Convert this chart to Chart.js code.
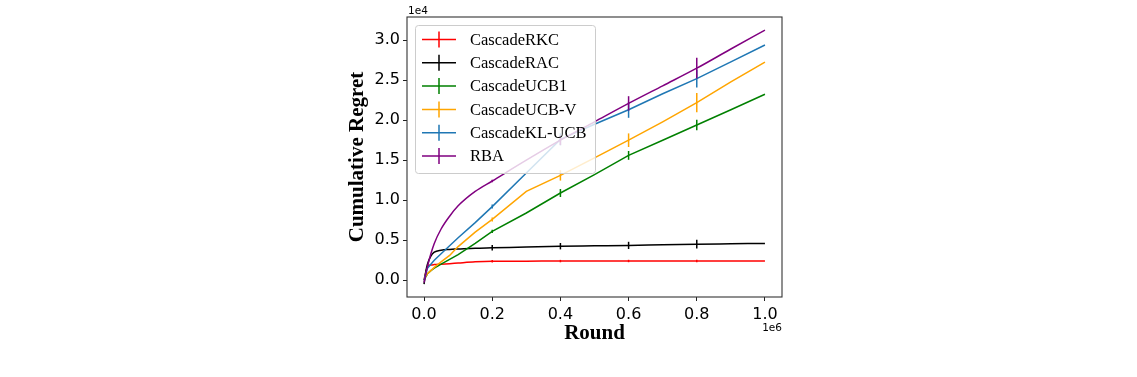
<!DOCTYPE html>
<html>
<head>
<meta charset="utf-8">
<script src="https://cdn.jsdelivr.net/npm/chart.js@4/dist/chart.umd.min.js"></script>
<style>
html, body { margin: 0; padding: 0; background: #fff; }
#wrap { width: 1137px; height: 377px; position: relative; }
</style>
</head>
<body>
<div id="wrap"><canvas id="regretChart"></canvas></div>
<script>
// rounds (x) and cumulative regret per algorithm (y)
const rounds = [0, 5000, 10000, 20000, 30000, 50000, 75000, 100000, 150000, 200000,
    300000, 400000, 500000, 600000, 700000, 800000, 900000, 1000000];

const rkc    = [0, 1000, 1700, 1900, 1950, 2000, 2070, 2150, 2300, 2370, 2380, 2390, 2390, 2400, 2400, 2400, 2400, 2400];
const rac    = [-500, 1000, 2000, 3000, 3500, 3750, 3850, 3900, 4000, 4050, 4150, 4250, 4300, 4350, 4430, 4500, 4550, 4600];
const ucb1   = [0, 400, 800, 1200, 1500, 2000, 2600, 3200, 4600, 6100, 8400, 10900, 13200, 15600, 17500, 19400, 21300, 23250];
const ucbV   = [200, 500, 800, 1200, 1600, 2300, 3100, 4200, 6000, 7600, 11100, 13100, 15300, 17500, 19800, 22200, 24800, 27250];
const klUcb  = [0, 800, 1500, 2000, 2500, 3300, 4300, 5300, 7200, 9200, 13400, 17600, 19500, 21300, 23300, 25200, 27300, 29400];
const rba    = [-300, 700, 1700, 3300, 4600, 6400, 8000, 9300, 11100, 12400, 15000, 17500, 19800, 22100, 24300, 26500, 28900, 31250];

// error bars (half height) at these rounds
const errRounds = [200000, 400000, 600000, 800000];
const rkcErr   = [150, 150, 150, 150];
const racErr   = [350, 400, 450, 550];
const ucb1Err  = [200, 500, 550, 650];
const ucbVErr  = [250, 650, 850, 1200];
const klUcbErr = [250, 750, 1000, 1100];
const rbaErr   = [150, 600, 900, 1300];

const seriesNames = ['CascadeRKC', 'CascadeRAC', 'CascadeUCB1', 'CascadeUCB-V', 'CascadeKL-UCB', 'RBA'];
const seriesColors = ['#ff0000', '#000000', '#008000', '#ffa500', '#1f77b4', '#800080'];
const smoothSeries = ['CascadeRKC', 'CascadeRAC', 'RBA'];

const xTicks = [0, 200000, 400000, 600000, 800000, 1000000];
const yTicks = [0, 5000, 10000, 15000, 20000, 25000, 30000];

const allSeries = [rkc, rac, ucb1, ucbV, klUcb, rba];
const allErrors = [rkcErr, racErr, ucb1Err, ucbVErr, klUcbErr, rbaErr];

const datasets = allSeries.map((vals, i) => ({
    label: seriesNames[i],
    data: vals.map((v, j) => ({ x: rounds[j], y: v })),
    errors: allErrors[i],
    borderColor: seriesColors[i],
    backgroundColor: seriesColors[i],
    borderWidth: 1.5,
    pointRadius: 0,
    tension: 0,
    cubicInterpolationMode: smoothSeries.includes(seriesNames[i]) ? 'monotone' : 'default',
    fill: false,
    order: allSeries.length - i
}));

// vertical error bars, drawn with their own series
const errorBars = {
    id: 'errorBars',
    afterDatasetDraw(chart, args) {
        const ds = chart.data.datasets[args.index];
        if (!ds.errors) return;
        const { ctx, chartArea, scales } = chart;
        ctx.save();
        ctx.beginPath();
        ctx.rect(chartArea.left, chartArea.top, chartArea.right - chartArea.left, chartArea.bottom - chartArea.top);
        ctx.clip();
        ctx.strokeStyle = ds.borderColor;
        ctx.lineWidth = 1.5;
        errRounds.forEach((r, k) => {
            const pt = ds.data.find(p => p.x === r);
            if (!pt) return;
            const px = scales.x.getPixelForValue(r);
            ctx.beginPath();
            ctx.moveTo(px, scales.y.getPixelForValue(pt.y - ds.errors[k]));
            ctx.lineTo(px, scales.y.getPixelForValue(pt.y + ds.errors[k]));
            ctx.stroke();
        });
        ctx.restore();
    }
};

// axes box, offset texts and the legend
const frameAndLegend = {
    id: 'frameAndLegend',
    afterDatasetsDraw(chart) {
        const { ctx, chartArea: a } = chart;
        ctx.save();
        ctx.strokeStyle = '#333';
        ctx.lineWidth = 1.1;
        ctx.strokeRect(a.left, a.top, a.right - a.left, a.bottom - a.top);
        ctx.fillStyle = '#000';
        ctx.font = '10.5px "DejaVu Sans"';
        ctx.textBaseline = 'alphabetic';
        ctx.textAlign = 'left';
        ctx.fillText('1e4', a.left + 1, a.top - 3);
        ctx.textAlign = 'right';
        ctx.fillText('1e6', a.right, a.bottom + 34);
        ctx.restore();
    },
    afterDraw(chart) {
        const { ctx, chartArea: a } = chart;
        const bx = a.left + 8, by = a.top + 8, bw = 180, bh = 148;
        ctx.save();
        ctx.beginPath();
        ctx.roundRect(bx + 0.5, by + 0.5, bw, bh, 3);
        ctx.fillStyle = 'rgba(255,255,255,0.8)';
        ctx.fill();
        ctx.strokeStyle = '#cccccc';
        ctx.lineWidth = 1;
        ctx.stroke();
        ctx.font = '16.5px "Liberation Serif"';
        ctx.textAlign = 'left';
        ctx.textBaseline = 'middle';
        chart.data.datasets.forEach((ds, i) => {
            const cy = by + 14.5 + i * 23.3;
            ctx.strokeStyle = ds.borderColor;
            ctx.lineWidth = 1.5;
            ctx.beginPath();
            ctx.moveTo(bx + 7, cy);
            ctx.lineTo(bx + 41, cy);
            ctx.moveTo(bx + 24, cy - 8);
            ctx.lineTo(bx + 24, cy + 8);
            ctx.stroke();
            ctx.fillStyle = '#000';
            ctx.fillText(ds.label, bx + 55, cy + 1);
        });
        ctx.restore();
    }
};

const chart = new Chart(document.getElementById('regretChart'), {
    type: 'line',
    data: { datasets: datasets },
    options: {
        responsive: true,
        maintainAspectRatio: false,
        animation: false,
        layout: { padding: { left: 340, top: 17, right: 355, bottom: 0 } },
        plugins: {
            legend: { display: false },
            tooltip: { enabled: false }
        },
        scales: {
            x: {
                type: 'linear',
                min: -50000,
                max: 1050000,
                afterBuildTicks: (s) => { s.ticks = xTicks.map(v => ({ value: v })); },
                afterFit: (s) => { s.height = 80; },
                grid: { drawOnChartArea: false, drawTicks: true, tickLength: 4, tickColor: '#222', tickWidth: 1 },
                border: { display: false },
                ticks: {
                    color: '#000',
                    padding: 4,
                    maxRotation: 0,
                    font: { family: '"DejaVu Sans"', size: 16 },
                    callback: (v) => (v / 1e6).toFixed(1)
                },
                title: {
                    display: true,
                    text: 'Round',
                    color: '#000',
                    font: { family: '"Liberation Serif"', size: 21, weight: 'bold' },
                    padding: { top: 0, bottom: 31 }
                }
            },
            y: {
                type: 'linear',
                min: -2100,
                max: 32900,
                afterBuildTicks: (s) => { s.ticks = yTicks.map(v => ({ value: v })); },
                afterFit: (s) => { s.width = 67; },
                grid: { drawOnChartArea: false, drawTicks: true, tickLength: 4, tickColor: '#222', tickWidth: 1 },
                border: { display: false },
                ticks: {
                    color: '#000',
                    padding: 3,
                    font: { family: '"DejaVu Sans"', size: 16 },
                    callback: (v) => (v / 1e4).toFixed(1)
                },
                title: {
                    display: true,
                    text: 'Cumulative Regret',
                    color: '#000',
                    font: { family: '"Liberation Serif"', size: 21, weight: 'bold' },
                    padding: { top: 5, bottom: 0 }
                }
            }
        }
    },
    plugins: [errorBars, frameAndLegend]
});
</script>
</body>
</html>
